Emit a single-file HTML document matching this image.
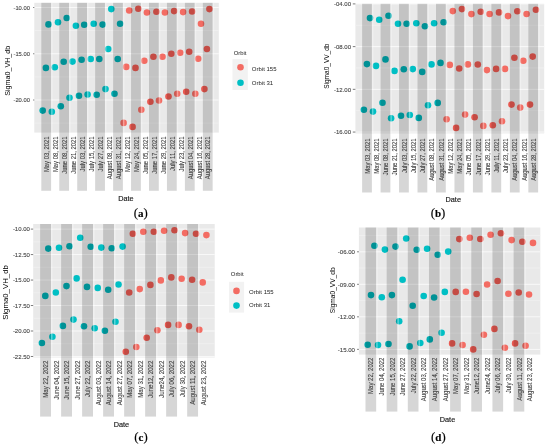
<!DOCTYPE html>
<html><head><meta charset="utf-8"><style>
html,body{margin:0;padding:0;background:#fff;width:550px;height:447px;overflow:hidden}
svg{display:block;filter:blur(0.4px)}
text{font-family:"Liberation Sans",sans-serif}
.k{stroke:#111;stroke-width:0.15px} .t{stroke:#444;stroke-width:0.1px}
</style></head><body>
<svg width="550" height="447" viewBox="0 0 550 447">
<rect width="550" height="447" fill="#fff"/>
<rect x="34.3" y="2.8" width="184.5" height="129.8" fill="#e9e9e9"/>
<line x1="34.3" x2="218.8" y1="30.62" y2="30.62" stroke="#f4f4f4" stroke-width="0.6"/>
<line x1="34.3" x2="218.8" y1="76.88" y2="76.88" stroke="#f4f4f4" stroke-width="0.6"/>
<line x1="34.3" x2="218.8" y1="123.12" y2="123.12" stroke="#f4f4f4" stroke-width="0.6"/>
<line x1="34.3" x2="218.8" y1="7.5" y2="7.5" stroke="#fafafa" stroke-width="0.9"/>
<line x1="34.3" x2="218.8" y1="53.75" y2="53.75" stroke="#fafafa" stroke-width="0.9"/>
<line x1="34.3" x2="218.8" y1="100" y2="100" stroke="#fafafa" stroke-width="0.9"/>
<circle cx="48.5" cy="24.4" r="3.3" fill="#00ADB2"/>
<circle cx="58" cy="22.3" r="3.3" fill="#00BFC4"/>
<circle cx="66.7" cy="18" r="3.3" fill="#00ADB2"/>
<circle cx="75.9" cy="25.7" r="3.3" fill="#00BFC4"/>
<circle cx="84.2" cy="24.7" r="3.3" fill="#00ADB2"/>
<circle cx="93.7" cy="23.8" r="3.3" fill="#00BFC4"/>
<circle cx="102.6" cy="24.6" r="3.3" fill="#00ADB2"/>
<circle cx="111.3" cy="9.1" r="3.3" fill="#00BFC4"/>
<circle cx="120.1" cy="23.8" r="3.3" fill="#00ADB2"/>
<circle cx="45.9" cy="67.9" r="3.3" fill="#00ADB2"/>
<circle cx="54.8" cy="67.3" r="3.3" fill="#00BFC4"/>
<circle cx="63.7" cy="61.8" r="3.3" fill="#00ADB2"/>
<circle cx="72.5" cy="61.6" r="3.3" fill="#00BFC4"/>
<circle cx="81.6" cy="59.8" r="3.3" fill="#00ADB2"/>
<circle cx="90.7" cy="59" r="3.3" fill="#00BFC4"/>
<circle cx="99.3" cy="59" r="3.3" fill="#00ADB2"/>
<circle cx="108.2" cy="49" r="3.3" fill="#00BFC4"/>
<circle cx="117.7" cy="59" r="3.3" fill="#00ADB2"/>
<circle cx="42.7" cy="110.6" r="3.3" fill="#00ADB2"/>
<circle cx="51.8" cy="111.8" r="3.3" fill="#00BFC4"/>
<circle cx="60.8" cy="106.2" r="3.3" fill="#00ADB2"/>
<circle cx="69.5" cy="97.7" r="3.3" fill="#00BFC4"/>
<circle cx="79" cy="95.7" r="3.3" fill="#00ADB2"/>
<circle cx="87.6" cy="94.5" r="3.3" fill="#00BFC4"/>
<circle cx="96.7" cy="94.7" r="3.3" fill="#00ADB2"/>
<circle cx="105.5" cy="89.1" r="3.3" fill="#00BFC4"/>
<circle cx="114.5" cy="93.7" r="3.3" fill="#00ADB2"/>
<circle cx="129.2" cy="10.5" r="3.3" fill="#F36C63"/>
<circle cx="138.3" cy="8.7" r="3.3" fill="#EA5A52"/>
<circle cx="146.9" cy="12.5" r="3.3" fill="#F36C63"/>
<circle cx="156.4" cy="11.7" r="3.3" fill="#EA5A52"/>
<circle cx="164.9" cy="12.5" r="3.3" fill="#F36C63"/>
<circle cx="174.1" cy="11.1" r="3.3" fill="#EA5A52"/>
<circle cx="183.1" cy="12.1" r="3.3" fill="#F36C63"/>
<circle cx="192.1" cy="11.5" r="3.3" fill="#EA5A52"/>
<circle cx="201" cy="23.8" r="3.3" fill="#F36C63"/>
<circle cx="209.4" cy="9.1" r="3.3" fill="#EA5A52"/>
<circle cx="126.2" cy="66.9" r="3.3" fill="#F36C63"/>
<circle cx="135.5" cy="67.9" r="3.3" fill="#EA5A52"/>
<circle cx="144.3" cy="60.8" r="3.3" fill="#F36C63"/>
<circle cx="153.4" cy="56.8" r="3.3" fill="#EA5A52"/>
<circle cx="162.5" cy="56.8" r="3.3" fill="#F36C63"/>
<circle cx="171.3" cy="53.8" r="3.3" fill="#EA5A52"/>
<circle cx="180.2" cy="52.8" r="3.3" fill="#F36C63"/>
<circle cx="189.2" cy="51.8" r="3.3" fill="#EA5A52"/>
<circle cx="198.2" cy="58.8" r="3.3" fill="#F36C63"/>
<circle cx="206.9" cy="49" r="3.3" fill="#EA5A52"/>
<circle cx="123.6" cy="122.9" r="3.3" fill="#F36C63"/>
<circle cx="132.6" cy="126.9" r="3.3" fill="#EA5A52"/>
<circle cx="141.3" cy="109.8" r="3.3" fill="#F36C63"/>
<circle cx="150.4" cy="101.8" r="3.3" fill="#EA5A52"/>
<circle cx="159" cy="100.5" r="3.3" fill="#F36C63"/>
<circle cx="168.5" cy="96.5" r="3.3" fill="#EA5A52"/>
<circle cx="177.2" cy="93.7" r="3.3" fill="#F36C63"/>
<circle cx="186.2" cy="91.7" r="3.3" fill="#EA5A52"/>
<circle cx="195.3" cy="93.7" r="3.3" fill="#F36C63"/>
<circle cx="204.4" cy="89.1" r="3.3" fill="#EA5A52"/>
<rect x="41.3" y="2.8" width="9.8" height="188" fill="rgba(0,0,0,0.16)"/>
<rect x="51.1" y="2.8" width="1.5" height="129.8" fill="rgba(255,255,255,0.35)"/>
<rect x="59.25" y="2.8" width="9.8" height="188" fill="rgba(0,0,0,0.16)"/>
<rect x="69.05" y="2.8" width="1.5" height="129.8" fill="rgba(255,255,255,0.35)"/>
<rect x="77.2" y="2.8" width="9.8" height="188" fill="rgba(0,0,0,0.16)"/>
<rect x="87" y="2.8" width="1.5" height="129.8" fill="rgba(255,255,255,0.35)"/>
<rect x="95.15" y="2.8" width="9.8" height="188" fill="rgba(0,0,0,0.16)"/>
<rect x="104.95" y="2.8" width="1.5" height="129.8" fill="rgba(255,255,255,0.35)"/>
<rect x="113.1" y="2.8" width="9.8" height="188" fill="rgba(0,0,0,0.16)"/>
<rect x="122.9" y="2.8" width="1.5" height="129.8" fill="rgba(255,255,255,0.35)"/>
<rect x="131.05" y="2.8" width="9.8" height="188" fill="rgba(0,0,0,0.16)"/>
<rect x="140.85" y="2.8" width="1.5" height="129.8" fill="rgba(255,255,255,0.35)"/>
<rect x="149" y="2.8" width="9.8" height="188" fill="rgba(0,0,0,0.16)"/>
<rect x="158.8" y="2.8" width="1.5" height="129.8" fill="rgba(255,255,255,0.35)"/>
<rect x="166.95" y="2.8" width="9.8" height="188" fill="rgba(0,0,0,0.16)"/>
<rect x="176.75" y="2.8" width="1.5" height="129.8" fill="rgba(255,255,255,0.35)"/>
<rect x="184.9" y="2.8" width="9.8" height="188" fill="rgba(0,0,0,0.16)"/>
<rect x="194.7" y="2.8" width="1.5" height="129.8" fill="rgba(255,255,255,0.35)"/>
<rect x="202.85" y="2.8" width="9.8" height="188" fill="rgba(0,0,0,0.16)"/>
<rect x="212.65" y="2.8" width="1.5" height="129.8" fill="rgba(255,255,255,0.35)"/>
<line x1="33.1" x2="34.3" y1="7.5" y2="7.5" stroke="#444" stroke-width="0.7"/>
<text x="29.9" y="9.59" font-size="5.8" text-anchor="end" fill="#444444" class="t">-10.00</text>
<line x1="33.1" x2="34.3" y1="53.75" y2="53.75" stroke="#444" stroke-width="0.7"/>
<text x="29.9" y="55.84" font-size="5.8" text-anchor="end" fill="#444444" class="t">-15.00</text>
<line x1="33.1" x2="34.3" y1="100" y2="100" stroke="#444" stroke-width="0.7"/>
<text x="29.9" y="102.09" font-size="5.8" text-anchor="end" fill="#444444" class="t">-20.00</text>
<text transform="translate(48.92,136.4) rotate(-90) scale(1,1.1)" font-size="5.9" text-anchor="end" fill="#444444" class="t">May 03, 2021</text>
<text transform="translate(57.9,136.4) rotate(-90) scale(1,1.1)" font-size="5.9" text-anchor="end" fill="#444444" class="t">May 08, 2021</text>
<text transform="translate(66.87,136.4) rotate(-90) scale(1,1.1)" font-size="5.9" text-anchor="end" fill="#444444" class="t">June 08, 2021</text>
<text transform="translate(75.85,136.4) rotate(-90) scale(1,1.1)" font-size="5.9" text-anchor="end" fill="#444444" class="t">June 21, 2021</text>
<text transform="translate(84.82,136.4) rotate(-90) scale(1,1.1)" font-size="5.9" text-anchor="end" fill="#444444" class="t">July 03, 2021</text>
<text transform="translate(93.8,136.4) rotate(-90) scale(1,1.1)" font-size="5.9" text-anchor="end" fill="#444444" class="t">July 15, 2021</text>
<text transform="translate(102.77,136.4) rotate(-90) scale(1,1.1)" font-size="5.9" text-anchor="end" fill="#444444" class="t">July 27, 2021</text>
<text transform="translate(111.75,136.4) rotate(-90) scale(1,1.1)" font-size="5.9" text-anchor="end" fill="#444444" class="t">August 08, 2021</text>
<text transform="translate(120.72,136.4) rotate(-90) scale(1,1.1)" font-size="5.9" text-anchor="end" fill="#444444" class="t">August 31, 2021</text>
<text transform="translate(129.7,136.4) rotate(-90) scale(1,1.1)" font-size="5.9" text-anchor="end" fill="#444444" class="t">May 12, 2021</text>
<text transform="translate(138.67,136.4) rotate(-90) scale(1,1.1)" font-size="5.9" text-anchor="end" fill="#444444" class="t">May 24, 2021</text>
<text transform="translate(147.65,136.4) rotate(-90) scale(1,1.1)" font-size="5.9" text-anchor="end" fill="#444444" class="t">June 05, 2021</text>
<text transform="translate(156.62,136.4) rotate(-90) scale(1,1.1)" font-size="5.9" text-anchor="end" fill="#444444" class="t">June 17, 2021</text>
<text transform="translate(165.6,136.4) rotate(-90) scale(1,1.1)" font-size="5.9" text-anchor="end" fill="#444444" class="t">June 29, 2021</text>
<text transform="translate(174.57,136.4) rotate(-90) scale(1,1.1)" font-size="5.9" text-anchor="end" fill="#444444" class="t">July 11, 2021</text>
<text transform="translate(183.55,136.4) rotate(-90) scale(1,1.1)" font-size="5.9" text-anchor="end" fill="#444444" class="t">July 23, 2021</text>
<text transform="translate(192.52,136.4) rotate(-90) scale(1,1.1)" font-size="5.9" text-anchor="end" fill="#444444" class="t">August 04, 2021</text>
<text transform="translate(201.5,136.4) rotate(-90) scale(1,1.1)" font-size="5.9" text-anchor="end" fill="#444444" class="t">August 16, 2021</text>
<text transform="translate(210.47,136.4) rotate(-90) scale(1,1.1)" font-size="5.9" text-anchor="end" fill="#444444" class="t">August 28, 2021</text>
<text transform="translate(9.77,70.75) rotate(-90)" font-size="7.15" text-anchor="middle" fill="#000">Sigma0_VH_db</text>
<text x="125.95" y="200.8" font-size="7.3" text-anchor="middle" fill="#1a1a1a" class="k">Date</text>
<text x="140.85" y="216.8" font-size="11" text-anchor="middle" style="font-family:Liberation Serif,serif;font-weight:bold" fill="#000" class="k"><tspan font-size="12.8" font-weight="normal" style="font-weight:normal">(</tspan>a<tspan font-size="12.8" style="font-weight:normal">)</tspan></text>
<text x="233.7" y="54.62" font-size="5.9" fill="#222">Orbit</text>
<rect x="232.5" y="59.1" width="15.3" height="30.9" fill="#f2f2f2"/>
<circle cx="240.5" cy="67.2" r="3.3" fill="#F36C63"/>
<circle cx="240.5" cy="82.7" r="3.3" fill="#00BFC4"/>
<text x="251.8" y="71.46" font-size="6" fill="#222">Orbit 155</text>
<text x="251.8" y="85.06" font-size="6" fill="#222">Orbit 31</text>
<rect x="355.4" y="3.8" width="188.8" height="129.6" fill="#e9e9e9"/>
<line x1="355.4" x2="544.2" y1="25.26" y2="25.26" stroke="#f4f4f4" stroke-width="0.6"/>
<line x1="355.4" x2="544.2" y1="67.98" y2="67.98" stroke="#f4f4f4" stroke-width="0.6"/>
<line x1="355.4" x2="544.2" y1="110.7" y2="110.7" stroke="#f4f4f4" stroke-width="0.6"/>
<line x1="355.4" x2="544.2" y1="3.9" y2="3.9" stroke="#fafafa" stroke-width="0.9"/>
<line x1="355.4" x2="544.2" y1="46.62" y2="46.62" stroke="#fafafa" stroke-width="0.9"/>
<line x1="355.4" x2="544.2" y1="89.34" y2="89.34" stroke="#fafafa" stroke-width="0.9"/>
<line x1="355.4" x2="544.2" y1="132.06" y2="132.06" stroke="#fafafa" stroke-width="0.9"/>
<circle cx="370" cy="18.1" r="3.3" fill="#00ADB2"/>
<circle cx="379.2" cy="19.7" r="3.3" fill="#00BFC4"/>
<circle cx="388.5" cy="15.7" r="3.3" fill="#00ADB2"/>
<circle cx="398" cy="23.8" r="3.3" fill="#00BFC4"/>
<circle cx="406.6" cy="23.8" r="3.3" fill="#00ADB2"/>
<circle cx="416.3" cy="23.2" r="3.3" fill="#00BFC4"/>
<circle cx="424.9" cy="26.2" r="3.3" fill="#00ADB2"/>
<circle cx="434.1" cy="23.2" r="3.3" fill="#00BFC4"/>
<circle cx="443.6" cy="22.2" r="3.3" fill="#00ADB2"/>
<circle cx="366.9" cy="64.1" r="3.3" fill="#00ADB2"/>
<circle cx="376" cy="65.9" r="3.3" fill="#00BFC4"/>
<circle cx="385.5" cy="59.4" r="3.3" fill="#00ADB2"/>
<circle cx="394.5" cy="70.9" r="3.3" fill="#00BFC4"/>
<circle cx="403.8" cy="69.3" r="3.3" fill="#00ADB2"/>
<circle cx="412.8" cy="69.1" r="3.3" fill="#00BFC4"/>
<circle cx="422.2" cy="71.9" r="3.3" fill="#00ADB2"/>
<circle cx="431.5" cy="64.4" r="3.3" fill="#00BFC4"/>
<circle cx="440.5" cy="62.9" r="3.3" fill="#00ADB2"/>
<circle cx="363.9" cy="109.8" r="3.3" fill="#00ADB2"/>
<circle cx="373" cy="111.6" r="3.3" fill="#00BFC4"/>
<circle cx="382.5" cy="102.8" r="3.3" fill="#00ADB2"/>
<circle cx="391.1" cy="118.3" r="3.3" fill="#00BFC4"/>
<circle cx="401" cy="115.7" r="3.3" fill="#00ADB2"/>
<circle cx="409.8" cy="115" r="3.3" fill="#00BFC4"/>
<circle cx="418.8" cy="117.9" r="3.3" fill="#00ADB2"/>
<circle cx="428" cy="105.3" r="3.3" fill="#00BFC4"/>
<circle cx="437.7" cy="102.9" r="3.3" fill="#00ADB2"/>
<circle cx="452.8" cy="11.1" r="3.3" fill="#F36C63"/>
<circle cx="461.9" cy="9.1" r="3.3" fill="#EA5A52"/>
<circle cx="471.4" cy="14.1" r="3.3" fill="#F36C63"/>
<circle cx="480.7" cy="11.7" r="3.3" fill="#EA5A52"/>
<circle cx="489.6" cy="14" r="3.3" fill="#F36C63"/>
<circle cx="499" cy="12.4" r="3.3" fill="#EA5A52"/>
<circle cx="508" cy="16.1" r="3.3" fill="#F36C63"/>
<circle cx="517.3" cy="11.3" r="3.3" fill="#EA5A52"/>
<circle cx="526.6" cy="14" r="3.3" fill="#F36C63"/>
<circle cx="535.9" cy="9.8" r="3.3" fill="#EA5A52"/>
<circle cx="449.8" cy="64.9" r="3.3" fill="#F36C63"/>
<circle cx="459.2" cy="68.5" r="3.3" fill="#EA5A52"/>
<circle cx="467.9" cy="64.4" r="3.3" fill="#F36C63"/>
<circle cx="477.8" cy="64.5" r="3.3" fill="#EA5A52"/>
<circle cx="486.9" cy="70.1" r="3.3" fill="#F36C63"/>
<circle cx="496.1" cy="68.9" r="3.3" fill="#EA5A52"/>
<circle cx="505" cy="68.9" r="3.3" fill="#F36C63"/>
<circle cx="514.4" cy="57.7" r="3.3" fill="#EA5A52"/>
<circle cx="523.3" cy="60.8" r="3.3" fill="#F36C63"/>
<circle cx="532.7" cy="56.6" r="3.3" fill="#EA5A52"/>
<circle cx="446.6" cy="119.3" r="3.3" fill="#F36C63"/>
<circle cx="456.1" cy="127.9" r="3.3" fill="#EA5A52"/>
<circle cx="465.1" cy="114.6" r="3.3" fill="#F36C63"/>
<circle cx="474.6" cy="117.3" r="3.3" fill="#EA5A52"/>
<circle cx="483.3" cy="125.9" r="3.3" fill="#F36C63"/>
<circle cx="492.8" cy="125.3" r="3.3" fill="#EA5A52"/>
<circle cx="502" cy="121.3" r="3.3" fill="#F36C63"/>
<circle cx="511.5" cy="104.6" r="3.3" fill="#EA5A52"/>
<circle cx="520.2" cy="107.6" r="3.3" fill="#F36C63"/>
<circle cx="530" cy="104.6" r="3.3" fill="#EA5A52"/>
<rect x="362.1" y="3.8" width="9.8" height="188.7" fill="rgba(0,0,0,0.16)"/>
<rect x="371.9" y="3.8" width="1.5" height="129.6" fill="rgba(255,255,255,0.35)"/>
<rect x="380.57" y="3.8" width="9.8" height="188.7" fill="rgba(0,0,0,0.16)"/>
<rect x="390.37" y="3.8" width="1.5" height="129.6" fill="rgba(255,255,255,0.35)"/>
<rect x="399.04" y="3.8" width="9.8" height="188.7" fill="rgba(0,0,0,0.16)"/>
<rect x="408.84" y="3.8" width="1.5" height="129.6" fill="rgba(255,255,255,0.35)"/>
<rect x="417.51" y="3.8" width="9.8" height="188.7" fill="rgba(0,0,0,0.16)"/>
<rect x="427.31" y="3.8" width="1.5" height="129.6" fill="rgba(255,255,255,0.35)"/>
<rect x="435.98" y="3.8" width="9.8" height="188.7" fill="rgba(0,0,0,0.16)"/>
<rect x="445.78" y="3.8" width="1.5" height="129.6" fill="rgba(255,255,255,0.35)"/>
<rect x="454.45" y="3.8" width="9.8" height="188.7" fill="rgba(0,0,0,0.16)"/>
<rect x="464.25" y="3.8" width="1.5" height="129.6" fill="rgba(255,255,255,0.35)"/>
<rect x="472.92" y="3.8" width="9.8" height="188.7" fill="rgba(0,0,0,0.16)"/>
<rect x="482.72" y="3.8" width="1.5" height="129.6" fill="rgba(255,255,255,0.35)"/>
<rect x="491.39" y="3.8" width="9.8" height="188.7" fill="rgba(0,0,0,0.16)"/>
<rect x="501.19" y="3.8" width="1.5" height="129.6" fill="rgba(255,255,255,0.35)"/>
<rect x="509.86" y="3.8" width="9.8" height="188.7" fill="rgba(0,0,0,0.16)"/>
<rect x="519.66" y="3.8" width="1.5" height="129.6" fill="rgba(255,255,255,0.35)"/>
<rect x="528.33" y="3.8" width="9.8" height="188.7" fill="rgba(0,0,0,0.16)"/>
<rect x="538.13" y="3.8" width="1.5" height="129.6" fill="rgba(255,255,255,0.35)"/>
<line x1="352.8" x2="355.4" y1="3.9" y2="3.9" stroke="#444" stroke-width="0.7"/>
<text x="351" y="6.06" font-size="6.0" text-anchor="end" fill="#444444" class="t">-04.00</text>
<line x1="352.8" x2="355.4" y1="46.62" y2="46.62" stroke="#444" stroke-width="0.7"/>
<text x="351" y="48.78" font-size="6.0" text-anchor="end" fill="#444444" class="t">-08.00</text>
<line x1="352.8" x2="355.4" y1="89.34" y2="89.34" stroke="#444" stroke-width="0.7"/>
<text x="351" y="91.5" font-size="6.0" text-anchor="end" fill="#444444" class="t">-12.00</text>
<line x1="352.8" x2="355.4" y1="132.06" y2="132.06" stroke="#444" stroke-width="0.7"/>
<text x="351" y="134.22" font-size="6.0" text-anchor="end" fill="#444444" class="t">-16.00</text>
<text transform="translate(369.69,138.6) rotate(-90) scale(1,1.1)" font-size="5.8" text-anchor="end" fill="#444444" class="t">May 03, 2021</text>
<text transform="translate(378.92,138.6) rotate(-90) scale(1,1.1)" font-size="5.8" text-anchor="end" fill="#444444" class="t">May 08, 2021</text>
<text transform="translate(388.16,138.6) rotate(-90) scale(1,1.1)" font-size="5.8" text-anchor="end" fill="#444444" class="t">June 08, 2021</text>
<text transform="translate(397.39,138.6) rotate(-90) scale(1,1.1)" font-size="5.8" text-anchor="end" fill="#444444" class="t">June 21, 2021</text>
<text transform="translate(406.63,138.6) rotate(-90) scale(1,1.1)" font-size="5.8" text-anchor="end" fill="#444444" class="t">July 03, 2021</text>
<text transform="translate(415.86,138.6) rotate(-90) scale(1,1.1)" font-size="5.8" text-anchor="end" fill="#444444" class="t">July 15, 2021</text>
<text transform="translate(425.1,138.6) rotate(-90) scale(1,1.1)" font-size="5.8" text-anchor="end" fill="#444444" class="t">July 27, 2021</text>
<text transform="translate(434.33,138.6) rotate(-90) scale(1,1.1)" font-size="5.8" text-anchor="end" fill="#444444" class="t">August 08, 2021</text>
<text transform="translate(443.57,138.6) rotate(-90) scale(1,1.1)" font-size="5.8" text-anchor="end" fill="#444444" class="t">August 31, 2021</text>
<text transform="translate(452.8,138.6) rotate(-90) scale(1,1.1)" font-size="5.8" text-anchor="end" fill="#444444" class="t">May 12, 2021</text>
<text transform="translate(462.04,138.6) rotate(-90) scale(1,1.1)" font-size="5.8" text-anchor="end" fill="#444444" class="t">May 24, 2021</text>
<text transform="translate(471.27,138.6) rotate(-90) scale(1,1.1)" font-size="5.8" text-anchor="end" fill="#444444" class="t">June 05, 2021</text>
<text transform="translate(480.51,138.6) rotate(-90) scale(1,1.1)" font-size="5.8" text-anchor="end" fill="#444444" class="t">June 17, 2021</text>
<text transform="translate(489.74,138.6) rotate(-90) scale(1,1.1)" font-size="5.8" text-anchor="end" fill="#444444" class="t">June 29, 2021</text>
<text transform="translate(498.98,138.6) rotate(-90) scale(1,1.1)" font-size="5.8" text-anchor="end" fill="#444444" class="t">July 11, 2021</text>
<text transform="translate(508.21,138.6) rotate(-90) scale(1,1.1)" font-size="5.8" text-anchor="end" fill="#444444" class="t">July 23, 2021</text>
<text transform="translate(517.45,138.6) rotate(-90) scale(1,1.1)" font-size="5.8" text-anchor="end" fill="#444444" class="t">August 04, 2021</text>
<text transform="translate(526.68,138.6) rotate(-90) scale(1,1.1)" font-size="5.8" text-anchor="end" fill="#444444" class="t">August 16, 2021</text>
<text transform="translate(535.92,138.6) rotate(-90) scale(1,1.1)" font-size="5.8" text-anchor="end" fill="#444444" class="t">August 28, 2021</text>
<text transform="translate(328.94,66.2) rotate(-90)" font-size="6.5" text-anchor="middle" fill="#000">Sigma0_VV_db</text>
<text x="453.25" y="201.7" font-size="7.3" text-anchor="middle" fill="#1a1a1a" class="k">Date</text>
<text x="438.05" y="216.8" font-size="11" text-anchor="middle" style="font-family:Liberation Serif,serif;font-weight:bold" fill="#000" class="k"><tspan font-size="12.8" font-weight="normal" style="font-weight:normal">(</tspan>b<tspan font-size="12.8" style="font-weight:normal">)</tspan></text>
<rect x="33.2" y="224" width="181.5" height="133.5" fill="#e9e9e9"/>
<line x1="33.2" x2="214.7" y1="241.84" y2="241.84" stroke="#f4f4f4" stroke-width="0.6"/>
<line x1="33.2" x2="214.7" y1="267.31" y2="267.31" stroke="#f4f4f4" stroke-width="0.6"/>
<line x1="33.2" x2="214.7" y1="292.79" y2="292.79" stroke="#f4f4f4" stroke-width="0.6"/>
<line x1="33.2" x2="214.7" y1="318.26" y2="318.26" stroke="#f4f4f4" stroke-width="0.6"/>
<line x1="33.2" x2="214.7" y1="343.74" y2="343.74" stroke="#f4f4f4" stroke-width="0.6"/>
<line x1="33.2" x2="214.7" y1="229.1" y2="229.1" stroke="#fafafa" stroke-width="0.9"/>
<line x1="33.2" x2="214.7" y1="254.57" y2="254.57" stroke="#fafafa" stroke-width="0.9"/>
<line x1="33.2" x2="214.7" y1="280.05" y2="280.05" stroke="#fafafa" stroke-width="0.9"/>
<line x1="33.2" x2="214.7" y1="305.52" y2="305.52" stroke="#fafafa" stroke-width="0.9"/>
<line x1="33.2" x2="214.7" y1="331" y2="331" stroke="#fafafa" stroke-width="0.9"/>
<line x1="33.2" x2="214.7" y1="356.48" y2="356.48" stroke="#fafafa" stroke-width="0.9"/>
<circle cx="48.3" cy="248.6" r="3.3" fill="#00ADB2"/>
<circle cx="59" cy="247.8" r="3.3" fill="#00BFC4"/>
<circle cx="69.5" cy="246.2" r="3.3" fill="#00ADB2"/>
<circle cx="80.2" cy="237.7" r="3.3" fill="#00BFC4"/>
<circle cx="90.7" cy="246.8" r="3.3" fill="#00ADB2"/>
<circle cx="101.3" cy="247.6" r="3.3" fill="#00BFC4"/>
<circle cx="111.7" cy="248.2" r="3.3" fill="#00ADB2"/>
<circle cx="122.6" cy="246.6" r="3.3" fill="#00BFC4"/>
<circle cx="45.3" cy="295.9" r="3.3" fill="#00ADB2"/>
<circle cx="55.8" cy="292.5" r="3.3" fill="#00BFC4"/>
<circle cx="66.5" cy="286.1" r="3.3" fill="#00ADB2"/>
<circle cx="76.6" cy="278.4" r="3.3" fill="#00BFC4"/>
<circle cx="87" cy="286.9" r="3.3" fill="#00ADB2"/>
<circle cx="97.7" cy="287.9" r="3.3" fill="#00BFC4"/>
<circle cx="108.2" cy="289.7" r="3.3" fill="#00ADB2"/>
<circle cx="118.5" cy="284.5" r="3.3" fill="#00BFC4"/>
<circle cx="41.9" cy="343" r="3.3" fill="#00ADB2"/>
<circle cx="52.4" cy="336.7" r="3.3" fill="#00BFC4"/>
<circle cx="62.9" cy="325.9" r="3.3" fill="#00ADB2"/>
<circle cx="73.5" cy="319.6" r="3.3" fill="#00BFC4"/>
<circle cx="84" cy="326.3" r="3.3" fill="#00ADB2"/>
<circle cx="94.7" cy="328.3" r="3.3" fill="#00BFC4"/>
<circle cx="104.9" cy="330.7" r="3.3" fill="#00ADB2"/>
<circle cx="115.5" cy="321.8" r="3.3" fill="#00BFC4"/>
<circle cx="132.8" cy="233.7" r="3.3" fill="#EA5A52"/>
<circle cx="143.3" cy="231.7" r="3.3" fill="#F36C63"/>
<circle cx="153.8" cy="231.7" r="3.3" fill="#EA5A52"/>
<circle cx="164.1" cy="230.7" r="3.3" fill="#F36C63"/>
<circle cx="174.5" cy="230.3" r="3.3" fill="#EA5A52"/>
<circle cx="185.1" cy="233.1" r="3.3" fill="#F36C63"/>
<circle cx="196" cy="233.7" r="3.3" fill="#EA5A52"/>
<circle cx="206.4" cy="235.1" r="3.3" fill="#F36C63"/>
<circle cx="129.2" cy="292.5" r="3.3" fill="#EA5A52"/>
<circle cx="139.7" cy="289.1" r="3.3" fill="#F36C63"/>
<circle cx="150.4" cy="284.9" r="3.3" fill="#EA5A52"/>
<circle cx="160.8" cy="280.4" r="3.3" fill="#F36C63"/>
<circle cx="171.3" cy="277.4" r="3.3" fill="#EA5A52"/>
<circle cx="181.6" cy="278.8" r="3.3" fill="#F36C63"/>
<circle cx="192.1" cy="279.8" r="3.3" fill="#EA5A52"/>
<circle cx="202.7" cy="282.4" r="3.3" fill="#F36C63"/>
<circle cx="125.8" cy="351.8" r="3.3" fill="#EA5A52"/>
<circle cx="136.3" cy="347" r="3.3" fill="#F36C63"/>
<circle cx="146.7" cy="337.7" r="3.3" fill="#EA5A52"/>
<circle cx="157.4" cy="330.3" r="3.3" fill="#F36C63"/>
<circle cx="168.1" cy="324.9" r="3.3" fill="#EA5A52"/>
<circle cx="178.6" cy="324.9" r="3.3" fill="#F36C63"/>
<circle cx="189" cy="326.3" r="3.3" fill="#EA5A52"/>
<circle cx="199.3" cy="329.7" r="3.3" fill="#F36C63"/>
<rect x="40.1" y="224" width="10.9" height="192.6" fill="rgba(0,0,0,0.16)"/>
<rect x="51" y="224" width="1.5" height="133.5" fill="rgba(255,255,255,0.35)"/>
<rect x="61.11" y="224" width="10.9" height="192.6" fill="rgba(0,0,0,0.16)"/>
<rect x="72.01" y="224" width="1.5" height="133.5" fill="rgba(255,255,255,0.35)"/>
<rect x="82.12" y="224" width="10.9" height="192.6" fill="rgba(0,0,0,0.16)"/>
<rect x="93.02" y="224" width="1.5" height="133.5" fill="rgba(255,255,255,0.35)"/>
<rect x="103.12" y="224" width="10.9" height="192.6" fill="rgba(0,0,0,0.16)"/>
<rect x="114.02" y="224" width="1.5" height="133.5" fill="rgba(255,255,255,0.35)"/>
<rect x="124.13" y="224" width="10.9" height="192.6" fill="rgba(0,0,0,0.16)"/>
<rect x="135.03" y="224" width="1.5" height="133.5" fill="rgba(255,255,255,0.35)"/>
<rect x="145.14" y="224" width="10.9" height="192.6" fill="rgba(0,0,0,0.16)"/>
<rect x="156.04" y="224" width="1.5" height="133.5" fill="rgba(255,255,255,0.35)"/>
<rect x="166.15" y="224" width="10.9" height="192.6" fill="rgba(0,0,0,0.16)"/>
<rect x="177.05" y="224" width="1.5" height="133.5" fill="rgba(255,255,255,0.35)"/>
<rect x="187.16" y="224" width="10.9" height="192.6" fill="rgba(0,0,0,0.16)"/>
<rect x="198.06" y="224" width="1.5" height="133.5" fill="rgba(255,255,255,0.35)"/>
<line x1="30.8" x2="33.2" y1="229.1" y2="229.1" stroke="#444" stroke-width="0.7"/>
<text x="29.9" y="231.26" font-size="6.0" text-anchor="end" fill="#444444" class="t">-10.00</text>
<line x1="30.8" x2="33.2" y1="254.57" y2="254.57" stroke="#444" stroke-width="0.7"/>
<text x="29.9" y="256.74" font-size="6.0" text-anchor="end" fill="#444444" class="t">-12.50</text>
<line x1="30.8" x2="33.2" y1="280.05" y2="280.05" stroke="#444" stroke-width="0.7"/>
<text x="29.9" y="282.21" font-size="6.0" text-anchor="end" fill="#444444" class="t">-15.00</text>
<line x1="30.8" x2="33.2" y1="305.52" y2="305.52" stroke="#444" stroke-width="0.7"/>
<text x="29.9" y="307.69" font-size="6.0" text-anchor="end" fill="#444444" class="t">-17.50</text>
<line x1="30.8" x2="33.2" y1="331" y2="331" stroke="#444" stroke-width="0.7"/>
<text x="29.9" y="333.16" font-size="6.0" text-anchor="end" fill="#444444" class="t">-20.00</text>
<line x1="30.8" x2="33.2" y1="356.48" y2="356.48" stroke="#444" stroke-width="0.7"/>
<text x="29.9" y="358.64" font-size="6.0" text-anchor="end" fill="#444444" class="t">-22.50</text>
<text transform="translate(48.26,360.6) rotate(-90) scale(1,1.1)" font-size="6.15" text-anchor="end" fill="#444444" class="t">May 22, 2022</text>
<text transform="translate(58.77,360.6) rotate(-90) scale(1,1.1)" font-size="6.15" text-anchor="end" fill="#444444" class="t">June 04, 2022</text>
<text transform="translate(69.27,360.6) rotate(-90) scale(1,1.1)" font-size="6.15" text-anchor="end" fill="#444444" class="t">June 15, 2022</text>
<text transform="translate(79.78,360.6) rotate(-90) scale(1,1.1)" font-size="6.15" text-anchor="end" fill="#444444" class="t">June 27, 2022</text>
<text transform="translate(90.28,360.6) rotate(-90) scale(1,1.1)" font-size="6.15" text-anchor="end" fill="#444444" class="t">July 22, 2022</text>
<text transform="translate(100.78,360.6) rotate(-90) scale(1,1.1)" font-size="6.15" text-anchor="end" fill="#444444" class="t">August 03, 2022</text>
<text transform="translate(111.29,360.6) rotate(-90) scale(1,1.1)" font-size="6.15" text-anchor="end" fill="#444444" class="t">August 14, 2022</text>
<text transform="translate(121.79,360.6) rotate(-90) scale(1,1.1)" font-size="6.15" text-anchor="end" fill="#444444" class="t">August 27, 2022</text>
<text transform="translate(132.3,360.6) rotate(-90) scale(1,1.1)" font-size="6.15" text-anchor="end" fill="#444444" class="t">May 07, 2022</text>
<text transform="translate(142.8,360.6) rotate(-90) scale(1,1.1)" font-size="6.15" text-anchor="end" fill="#444444" class="t">May 31, 2022</text>
<text transform="translate(153.3,360.6) rotate(-90) scale(1,1.1)" font-size="6.15" text-anchor="end" fill="#444444" class="t">June12, 2022</text>
<text transform="translate(163.81,360.6) rotate(-90) scale(1,1.1)" font-size="6.15" text-anchor="end" fill="#444444" class="t">June24, 2022</text>
<text transform="translate(174.31,360.6) rotate(-90) scale(1,1.1)" font-size="6.15" text-anchor="end" fill="#444444" class="t">July 06, 2022</text>
<text transform="translate(184.82,360.6) rotate(-90) scale(1,1.1)" font-size="6.15" text-anchor="end" fill="#444444" class="t">July 30, 2022</text>
<text transform="translate(195.32,360.6) rotate(-90) scale(1,1.1)" font-size="6.15" text-anchor="end" fill="#444444" class="t">August 11, 2022</text>
<text transform="translate(205.82,360.6) rotate(-90) scale(1,1.1)" font-size="6.15" text-anchor="end" fill="#444444" class="t">August 23, 2022</text>
<text transform="translate(8.31,292.5) rotate(-90)" font-size="7.8" text-anchor="middle" fill="#000">Sigma0_VH_db</text>
<text x="121.45" y="426.6" font-size="7.3" text-anchor="middle" fill="#1a1a1a" class="k">Date</text>
<text x="141.05" y="440.8" font-size="11" text-anchor="middle" style="font-family:Liberation Serif,serif;font-weight:bold" fill="#000" class="k"><tspan font-size="12.8" font-weight="normal" style="font-weight:normal">(</tspan>c<tspan font-size="12.8" style="font-weight:normal">)</tspan></text>
<text x="230.8" y="276.12" font-size="5.9" fill="#222">Orbit</text>
<rect x="229" y="281.8" width="15.1" height="30.8" fill="#f2f2f2"/>
<circle cx="236.5" cy="290.9" r="3.3" fill="#F36C63"/>
<circle cx="236.5" cy="305.6" r="3.3" fill="#00BFC4"/>
<text x="249" y="293.66" font-size="6" fill="#222">Orbit 155</text>
<text x="249" y="306.96" font-size="6" fill="#222">Orbit 31</text>
<rect x="358.9" y="227.5" width="181.4" height="127.1" fill="#e9e9e9"/>
<line x1="358.9" x2="540.3" y1="235.54" y2="235.54" stroke="#f4f4f4" stroke-width="0.6"/>
<line x1="358.9" x2="540.3" y1="268.06" y2="268.06" stroke="#f4f4f4" stroke-width="0.6"/>
<line x1="358.9" x2="540.3" y1="300.58" y2="300.58" stroke="#f4f4f4" stroke-width="0.6"/>
<line x1="358.9" x2="540.3" y1="333.1" y2="333.1" stroke="#f4f4f4" stroke-width="0.6"/>
<line x1="358.9" x2="540.3" y1="251.8" y2="251.8" stroke="#fafafa" stroke-width="0.9"/>
<line x1="358.9" x2="540.3" y1="284.32" y2="284.32" stroke="#fafafa" stroke-width="0.9"/>
<line x1="358.9" x2="540.3" y1="316.84" y2="316.84" stroke="#fafafa" stroke-width="0.9"/>
<line x1="358.9" x2="540.3" y1="349.36" y2="349.36" stroke="#fafafa" stroke-width="0.9"/>
<circle cx="374.4" cy="245.8" r="3.3" fill="#00ADB2"/>
<circle cx="384.9" cy="249.6" r="3.3" fill="#00BFC4"/>
<circle cx="395.5" cy="246.6" r="3.3" fill="#00ADB2"/>
<circle cx="406.2" cy="238.5" r="3.3" fill="#00BFC4"/>
<circle cx="416.7" cy="249.8" r="3.3" fill="#00ADB2"/>
<circle cx="427.1" cy="248.7" r="3.3" fill="#00BFC4"/>
<circle cx="437.7" cy="254.8" r="3.3" fill="#00ADB2"/>
<circle cx="448.2" cy="251.6" r="3.3" fill="#00BFC4"/>
<circle cx="371" cy="295.1" r="3.3" fill="#00ADB2"/>
<circle cx="381.8" cy="297.3" r="3.3" fill="#00BFC4"/>
<circle cx="391.9" cy="295.1" r="3.3" fill="#00ADB2"/>
<circle cx="402.6" cy="279.8" r="3.3" fill="#00BFC4"/>
<circle cx="412.7" cy="305.7" r="3.3" fill="#00ADB2"/>
<circle cx="423.7" cy="296" r="3.3" fill="#00BFC4"/>
<circle cx="434.1" cy="297.5" r="3.3" fill="#00ADB2"/>
<circle cx="444.8" cy="291.9" r="3.3" fill="#00BFC4"/>
<circle cx="367.7" cy="344.8" r="3.3" fill="#00ADB2"/>
<circle cx="378" cy="345" r="3.3" fill="#00BFC4"/>
<circle cx="388.5" cy="344" r="3.3" fill="#00ADB2"/>
<circle cx="399.2" cy="321.2" r="3.3" fill="#00BFC4"/>
<circle cx="409.6" cy="346.4" r="3.3" fill="#00ADB2"/>
<circle cx="420.3" cy="343" r="3.3" fill="#00BFC4"/>
<circle cx="429.8" cy="339.4" r="3.3" fill="#00ADB2"/>
<circle cx="441.6" cy="332.7" r="3.3" fill="#00BFC4"/>
<circle cx="459.3" cy="239.1" r="3.3" fill="#EA5A52"/>
<circle cx="469.8" cy="237.7" r="3.3" fill="#F36C63"/>
<circle cx="480.3" cy="239" r="3.3" fill="#EA5A52"/>
<circle cx="490.6" cy="234.7" r="3.3" fill="#F36C63"/>
<circle cx="500.9" cy="233.3" r="3.3" fill="#EA5A52"/>
<circle cx="511.6" cy="240.1" r="3.3" fill="#F36C63"/>
<circle cx="522.3" cy="241.7" r="3.3" fill="#EA5A52"/>
<circle cx="533" cy="242.9" r="3.3" fill="#F36C63"/>
<circle cx="455.7" cy="291.9" r="3.3" fill="#EA5A52"/>
<circle cx="465.9" cy="291.7" r="3.3" fill="#F36C63"/>
<circle cx="476.6" cy="294" r="3.3" fill="#EA5A52"/>
<circle cx="487.1" cy="284.5" r="3.3" fill="#F36C63"/>
<circle cx="497.6" cy="281" r="3.3" fill="#EA5A52"/>
<circle cx="508.4" cy="293.8" r="3.3" fill="#F36C63"/>
<circle cx="518.7" cy="292.5" r="3.3" fill="#EA5A52"/>
<circle cx="529" cy="294.5" r="3.3" fill="#F36C63"/>
<circle cx="452.1" cy="343.4" r="3.3" fill="#EA5A52"/>
<circle cx="462.6" cy="345" r="3.3" fill="#F36C63"/>
<circle cx="473.2" cy="349.4" r="3.3" fill="#EA5A52"/>
<circle cx="483.9" cy="334.7" r="3.3" fill="#F36C63"/>
<circle cx="494.4" cy="328.9" r="3.3" fill="#EA5A52"/>
<circle cx="504.9" cy="347.8" r="3.3" fill="#F36C63"/>
<circle cx="515.1" cy="343.4" r="3.3" fill="#EA5A52"/>
<circle cx="525.6" cy="345.8" r="3.3" fill="#F36C63"/>
<rect x="365.48" y="227.5" width="10.7" height="184.1" fill="rgba(0,0,0,0.16)"/>
<rect x="376.18" y="227.5" width="1.5" height="127.1" fill="rgba(255,255,255,0.35)"/>
<rect x="386.64" y="227.5" width="10.7" height="184.1" fill="rgba(0,0,0,0.16)"/>
<rect x="397.34" y="227.5" width="1.5" height="127.1" fill="rgba(255,255,255,0.35)"/>
<rect x="407.8" y="227.5" width="10.7" height="184.1" fill="rgba(0,0,0,0.16)"/>
<rect x="418.5" y="227.5" width="1.5" height="127.1" fill="rgba(255,255,255,0.35)"/>
<rect x="428.96" y="227.5" width="10.7" height="184.1" fill="rgba(0,0,0,0.16)"/>
<rect x="439.66" y="227.5" width="1.5" height="127.1" fill="rgba(255,255,255,0.35)"/>
<rect x="450.12" y="227.5" width="10.7" height="184.1" fill="rgba(0,0,0,0.16)"/>
<rect x="460.82" y="227.5" width="1.5" height="127.1" fill="rgba(255,255,255,0.35)"/>
<rect x="471.28" y="227.5" width="10.7" height="184.1" fill="rgba(0,0,0,0.16)"/>
<rect x="481.98" y="227.5" width="1.5" height="127.1" fill="rgba(255,255,255,0.35)"/>
<rect x="492.44" y="227.5" width="10.7" height="184.1" fill="rgba(0,0,0,0.16)"/>
<rect x="503.14" y="227.5" width="1.5" height="127.1" fill="rgba(255,255,255,0.35)"/>
<rect x="513.6" y="227.5" width="10.7" height="184.1" fill="rgba(0,0,0,0.16)"/>
<rect x="524.3" y="227.5" width="1.5" height="127.1" fill="rgba(255,255,255,0.35)"/>
<line x1="357.1" x2="358.9" y1="251.8" y2="251.8" stroke="#444" stroke-width="0.7"/>
<text x="355" y="254" font-size="6.1" text-anchor="end" fill="#444444" class="t">-06.00</text>
<line x1="357.1" x2="358.9" y1="284.32" y2="284.32" stroke="#444" stroke-width="0.7"/>
<text x="355" y="286.52" font-size="6.1" text-anchor="end" fill="#444444" class="t">-09.00</text>
<line x1="357.1" x2="358.9" y1="316.84" y2="316.84" stroke="#444" stroke-width="0.7"/>
<text x="355" y="319.04" font-size="6.1" text-anchor="end" fill="#444444" class="t">-12.00</text>
<line x1="357.1" x2="358.9" y1="349.36" y2="349.36" stroke="#444" stroke-width="0.7"/>
<text x="355" y="351.56" font-size="6.1" text-anchor="end" fill="#444444" class="t">-15.00</text>
<text transform="translate(373.49,357.6) rotate(-90) scale(1,1.1)" font-size="6.0" text-anchor="end" fill="#444444" class="t">May 22, 2022</text>
<text transform="translate(384.07,357.6) rotate(-90) scale(1,1.1)" font-size="6.0" text-anchor="end" fill="#444444" class="t">June 04, 2022</text>
<text transform="translate(394.65,357.6) rotate(-90) scale(1,1.1)" font-size="6.0" text-anchor="end" fill="#444444" class="t">June 15, 2022</text>
<text transform="translate(405.23,357.6) rotate(-90) scale(1,1.1)" font-size="6.0" text-anchor="end" fill="#444444" class="t">June 27, 2022</text>
<text transform="translate(415.81,357.6) rotate(-90) scale(1,1.1)" font-size="6.0" text-anchor="end" fill="#444444" class="t">July 22, 2022</text>
<text transform="translate(426.39,357.6) rotate(-90) scale(1,1.1)" font-size="6.0" text-anchor="end" fill="#444444" class="t">August 03, 2022</text>
<text transform="translate(436.97,357.6) rotate(-90) scale(1,1.1)" font-size="6.0" text-anchor="end" fill="#444444" class="t">August 14, 2022</text>
<text transform="translate(447.55,357.6) rotate(-90) scale(1,1.1)" font-size="6.0" text-anchor="end" fill="#444444" class="t">August 27, 2022</text>
<text transform="translate(458.13,357.6) rotate(-90) scale(1,1.1)" font-size="6.0" text-anchor="end" fill="#444444" class="t">May 07, 2022</text>
<text transform="translate(468.71,357.6) rotate(-90) scale(1,1.1)" font-size="6.0" text-anchor="end" fill="#444444" class="t">May 31, 2022</text>
<text transform="translate(479.29,357.6) rotate(-90) scale(1,1.1)" font-size="6.0" text-anchor="end" fill="#444444" class="t">June12, 2022</text>
<text transform="translate(489.87,357.6) rotate(-90) scale(1,1.1)" font-size="6.0" text-anchor="end" fill="#444444" class="t">June24, 2022</text>
<text transform="translate(500.45,357.6) rotate(-90) scale(1,1.1)" font-size="6.0" text-anchor="end" fill="#444444" class="t">July 06, 2022</text>
<text transform="translate(511.03,357.6) rotate(-90) scale(1,1.1)" font-size="6.0" text-anchor="end" fill="#444444" class="t">July 30, 2022</text>
<text transform="translate(521.61,357.6) rotate(-90) scale(1,1.1)" font-size="6.0" text-anchor="end" fill="#444444" class="t">August 11, 2022</text>
<text transform="translate(532.19,357.6) rotate(-90) scale(1,1.1)" font-size="6.0" text-anchor="end" fill="#444444" class="t">August 23, 2022</text>
<text transform="translate(334.58,290.3) rotate(-90)" font-size="6.6" text-anchor="middle" fill="#000">Sigma0_VV_db</text>
<text x="447.5" y="421.7" font-size="7.3" text-anchor="middle" fill="#1a1a1a" class="k">Date</text>
<text x="438.35" y="440.6" font-size="11" text-anchor="middle" style="font-family:Liberation Serif,serif;font-weight:bold" fill="#000" class="k"><tspan font-size="12.8" font-weight="normal" style="font-weight:normal">(</tspan>d<tspan font-size="12.8" style="font-weight:normal">)</tspan></text>
</svg>
</body></html>
